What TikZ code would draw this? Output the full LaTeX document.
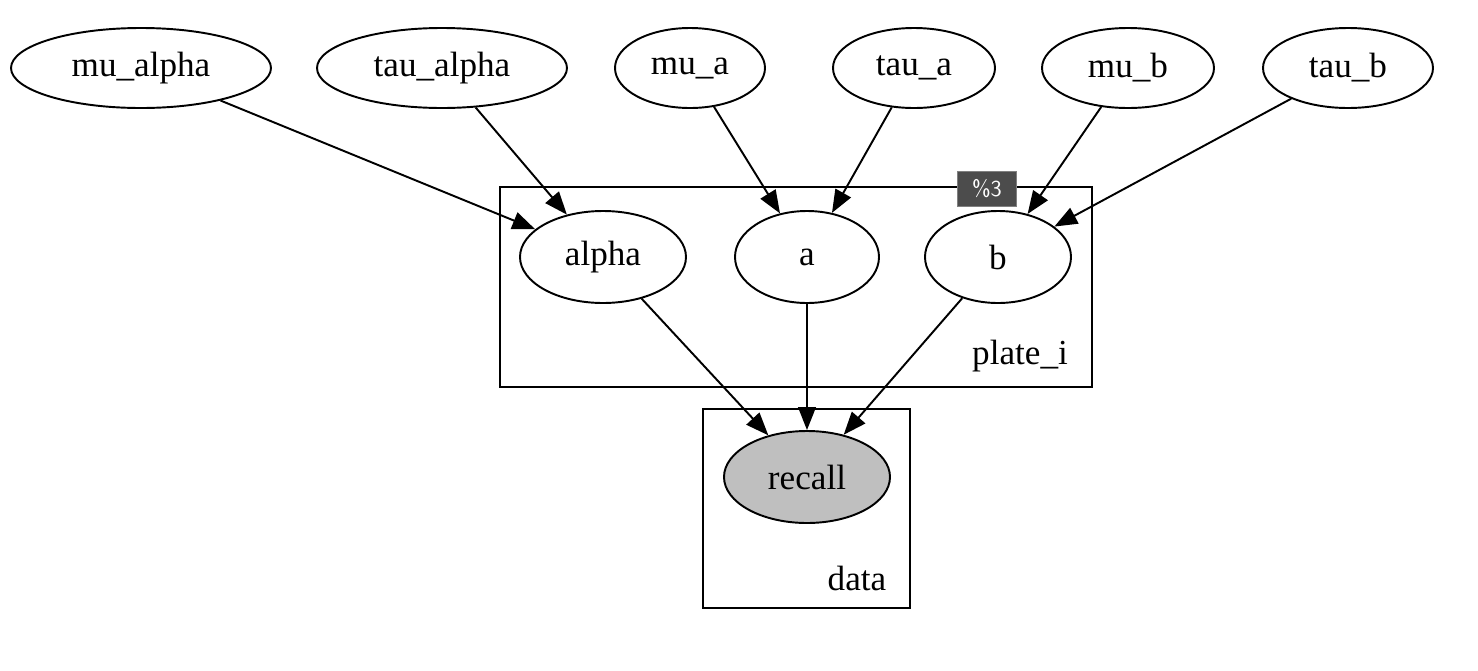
\documentclass[tikz,border=0pt]{standalone}
\usepackage{fontspec}
\setmainfont{Liberation Serif}
\usetikzlibrary{arrows.meta,shapes.geometric}

\tikzset{
  var/.style={draw, ellipse, line width=1.1pt, inner sep=0pt, minimum height=80*0.02cm, font=\fontsize{20}{24}\selectfont},
  obs/.style={var, fill=gray!50},
  plate/.style={draw, line width=1.1pt},
  edge/.style={line width=1.1pt, -{Triangle[length=13pt,width=10pt]}},
}

\begin{document}
\begin{tikzpicture}[x=0.02cm, y=-0.02cm]
\useasboundingbox (0,0) rectangle (1478,670);
% plates
\draw[plate] (500,187) rectangle (1092,387);
\draw[plate] (703,409) rectangle (910,608);
\node[font=\fontsize{20}{24}\selectfont] (plateI) at (1020,356) {plate\_i};
\node[font=\fontsize{20}{24}\selectfont] (dataLbl) at (857,578) {data};
% hyperpriors
\node[var, minimum width=260*0.02cm] (muAlpha) at (141,68) {mu\_alpha};
\node[var, minimum width=250*0.02cm] (tauAlpha) at (442,68) {tau\_alpha};
\node[var, minimum width=150*0.02cm] (muA) at (690,68) {mu\_a};
\node[var, minimum width=162*0.02cm] (tauA) at (914,68) {tau\_a};
\node[var, minimum width=172*0.02cm] (muB) at (1128,68) {mu\_b};
\node[var, minimum width=170*0.02cm] (tauB) at (1348,68) {tau\_b};
% plate_i
\node[var, minimum width=166*0.02cm, minimum height=92*0.02cm] (alpha) at (603,257) {alpha};
\node[var, minimum width=144*0.02cm, minimum height=92*0.02cm] (a) at (807,257) {a};
\node[var, minimum width=146*0.02cm, minimum height=92*0.02cm] (b) at (998,257) {b};
% data
\node[obs, minimum width=166*0.02cm, minimum height=92*0.02cm] (recall) at (807,477) {recall};
% edges
\draw[edge] (muAlpha) -- (alpha);
\draw[edge] (tauAlpha) -- (alpha);
\draw[edge] (muA) -- (a);
\draw[edge] (tauA) -- (a);
\draw[edge] (muB) -- (b);
\draw[edge] (tauB) -- (b);
\draw[edge] (alpha) -- (recall);
\draw[edge] (a) -- (recall);
\draw[edge] (b) -- (recall);
% tooltip
\node[fill=black!70, draw=black!50, text=white, minimum width=59*0.02cm, minimum height=35*0.02cm, inner sep=0pt, font=\sffamily\fontsize{13}{15}\selectfont] (tip) at (987,189) {\%3};
\end{tikzpicture}
\end{document}
